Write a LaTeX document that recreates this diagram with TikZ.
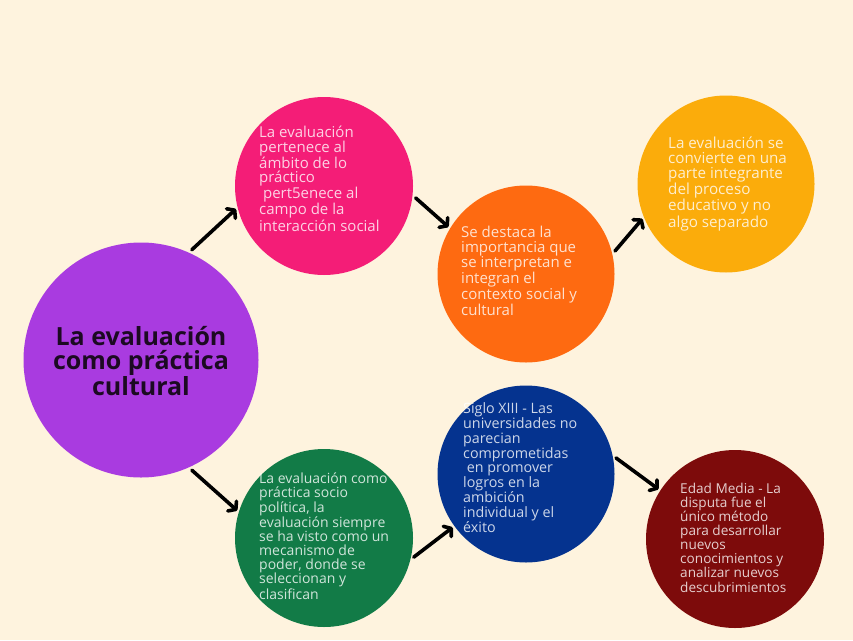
\documentclass[tikz,border=0pt]{standalone}
\usepackage{fontspec}
\setmainfont{Open Sans}
\usetikzlibrary{arrows.meta}
\definecolor{bgcream}{HTML}{FEF3DE}
\definecolor{cpurple}{HTML}{A93BE0}
\definecolor{cpink}{HTML}{F41D77}
\definecolor{corange}{HTML}{FE6A11}
\definecolor{cyellow}{HTML}{FBAC0B}
\definecolor{cgreen}{HTML}{127B47}
\definecolor{cblue}{HTML}{05338F}
\definecolor{cdarkred}{HTML}{7D0B0B}
\definecolor{ctitle}{HTML}{1C0A22}
\begin{document}
\begin{tikzpicture}[x=1pt,y=-1pt,
    bubble/.style={circle,inner sep=0pt,minimum size=#1},
    txt/.style={anchor=base west,align=left,inner sep=0pt,text=white,text opacity=0.8},
    arr/.style={line width=3.6pt,line cap=round,line join=round,
      -{Straight Barb[length=5pt,width=13pt,line cap=round,line join=round]},shorten <=4pt,shorten >=2pt}]
  %% background
  \fill[bgcream] (0,0) rectangle (853,640);

  %% the circles
  \node[bubble=235pt,fill=cpurple] (main) at (141,360) {};
  \node[bubble=178pt,fill=cpink] (pink) at (324,186) {};
  \node[bubble=177pt,fill=corange] (orange) at (526,274) {};
  \node[bubble=177pt,fill=cyellow] (yellow) at (726,184) {};
  \node[bubble=178pt,fill=cgreen] (green) at (324,538) {};
  \node[bubble=177pt,fill=cblue] (blue) at (526,474) {};
  \node[bubble=178pt,fill=cdarkred] (darkred) at (735,539) {};

  %% texts (placed at the baseline of their last line)
  \node[align=center,text=ctitle,font=\bfseries\fontsize{25}{24.7}\selectfont] (title) at (141,361)
    {La evaluación\\como práctica\\cultural};
  \node[txt,font=\fontsize{15}{14.8}\selectfont] (tpink) at (259,231) {La evaluación\\pertenece al\\ámbito de lo\\práctico\\\ pert5enece al\\campo de la\\interacción social};
  \node[txt,font=\fontsize{15}{14.7}\selectfont] (torange) at (461,315) {Se destaca la\\importancia que\\se interpretan e\\integran el\\contexto social y\\cultural};
  \node[txt,font=\fontsize{15.2}{15}\selectfont] (tyellow) at (668,227) {La evaluación se\\convierte en una\\parte integrante\\del proceso\\educativo y no\\algo separado};
  \node[txt,font=\fontsize{14}{14}\selectfont] (tgreen) at (259,599) {La evaluación como\\práctica socio\\política, la\\evaluación siempre\\se ha visto como un\\mecanismo de\\poder, donde se\\seleccionan y\\clasifican};
  \node[txt,font=\fontsize{14.3}{14.8}\selectfont] (tblue) at (463,532) {Siglo XIII - Las\\universidades no\\parecian\\comprometidas\\\ en promover\\logros en la\\ambición\\individual y el\\éxito};
  \node[txt,font=\fontsize{13.6}{14.1}\selectfont] (tdarkred) at (680,592) {Edad Media - La\\disputa fue el\\único método\\para desarrollar\\nuevos\\conocimientos y\\analizar nuevos\\descubrimientos};

  %% arrows
  \draw[arr] (main.66) -- (pink.194);
  \draw[arr] (pink.-6) -- (orange.149);
  \draw[arr] (orange.13) -- (yellow.202);
  \draw[arr] (main.-66) -- (green.163);
  \draw[arr] (green.-14) -- (blue.216);
  \draw[arr] (blue.12) -- (darkred.147);
\end{tikzpicture}
\end{document}
